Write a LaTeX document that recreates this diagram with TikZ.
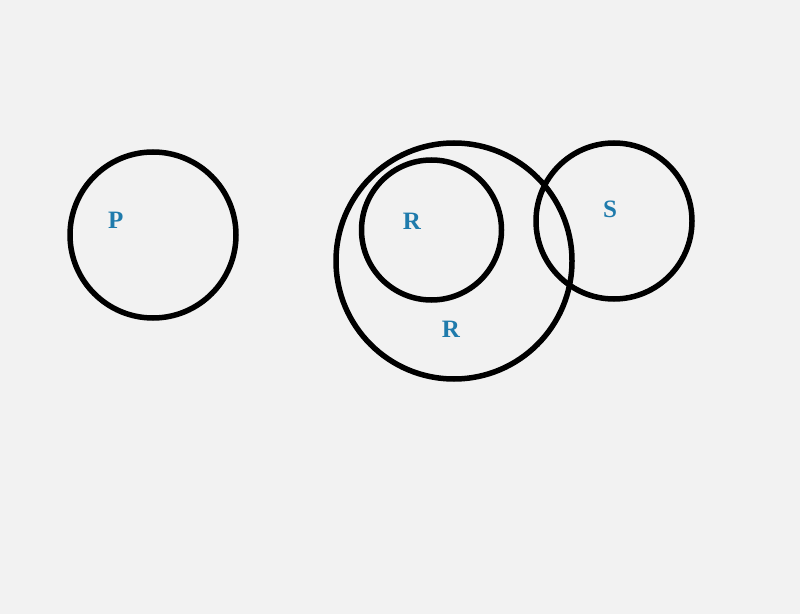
\documentclass[tikz,border=0pt]{standalone}
\usepackage{fontspec}
\setmainfont{Liberation Serif}
\usepackage{tikz}
\usetikzlibrary{backgrounds}
\definecolor{setblue}{HTML}{1F7BAC}
\definecolor{pagegray}{HTML}{F2F2F2}

\begin{document}
\begin{tikzpicture}[
  x=1pt, y=1pt,
  ring/.style={
    draw, circle, line width=5.5pt,
    inner sep=0pt, outer sep=0pt
  },
  tag/.style={
    text=setblue, inner sep=0pt,
    font=\fontsize{25}{25}\selectfont\bfseries
  }
]

% Page
\fill[pagegray] (0,0) rectangle (800,614);
\useasboundingbox (0,0) rectangle (800,614);

% Circles
\node[ring, minimum size=166pt] (p) at (153,379) {};
\node[ring, minimum size=236pt] (rbig) at (454,353) {};
\node[ring, minimum size=140pt] (rsmall) at (431.5,384) {};
\node[ring, minimum size=156pt] (s) at (614,393) {};

% Labels
\node[tag] (ptag) at (115.8,393.5) {P};
\node[tag] (rsmalltag) at (412,393) {R};
\node[tag] (rbigtag) at (451,285) {R};
\node[tag] (stag) at (610,405) {S};
\end{tikzpicture}
\end{document}
